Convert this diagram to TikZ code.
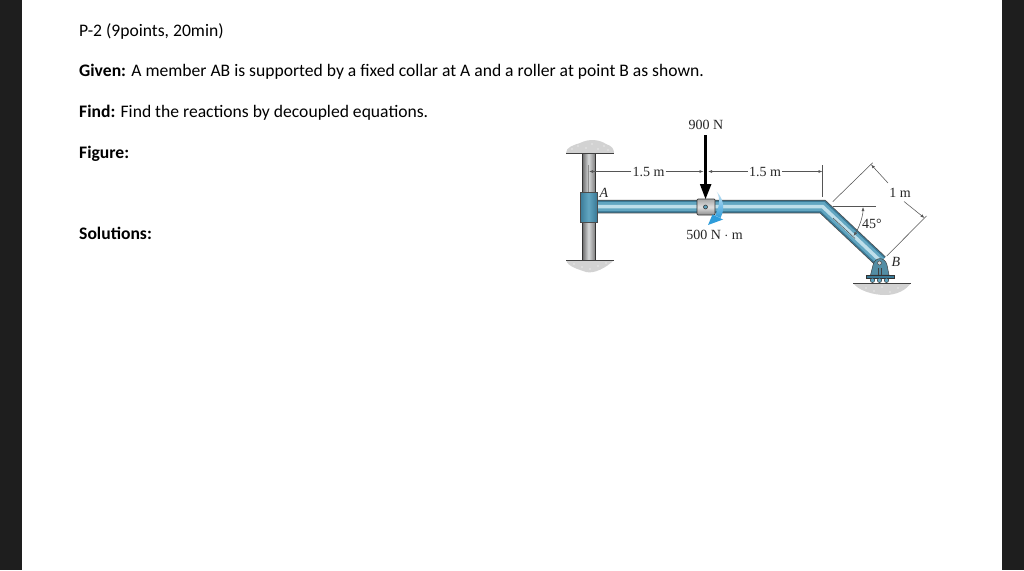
\documentclass[tikz,border=0pt]{standalone}
\usepackage{fontspec}
\setmainfont{Carlito}
\newfontfamily\figfont{Liberation Serif}
\usetikzlibrary{arrows.meta,calc}
\definecolor{pagebar}{HTML}{1E1E1E}
\definecolor{steelblue}{HTML}{62A6C1}
\definecolor{steeldark}{HTML}{3A7A97}
\definecolor{steellight}{HTML}{BFDFEA}
\definecolor{groundgray}{HTML}{D2D2D2}
\definecolor{collight}{HTML}{D6D8D9}
\definecolor{dimgray}{HTML}{555555}
\definecolor{momblue}{HTML}{2E9CDA}
\tikzset{
 doctext/.style={anchor=base west,font=\fontsize{17.6}{17.6}\selectfont,text=black,inner sep=0pt},
 figlabel/.style={font=\figfont\fontsize{14}{14}\selectfont,inner sep=1pt,text=black!85},
 figital/.style={figlabel,font=\figfont\itshape\fontsize{14}{14}\selectfont},
 dimline/.style={draw=dimgray,line width=0.55pt},
 dimarrow/.style={dimline,-{Latex[length=4pt,width=3pt]}},
 groundline/.style={draw=black!75,line width=0.9pt},
 ground/.style={fill=groundgray,draw=none},
 speck/.style={fill=white,draw=none},
}
\begin{document}
\begin{tikzpicture}[x=1pt,y=-1pt]
\useasboundingbox (0,0) rectangle (1024,570);
\fill[white] (0,0) rectangle (1024,570);
\fill[pagebar] (0,0) rectangle (22,570);
\fill[pagebar] (1002,0) rectangle (1024,570);
% text
\node[doctext] (title) at (79,36) {P-2 (9points, 20min)};
\node[doctext] (given) at (79,76) {\textbf{Given:} A member AB is supported by a fixed collar at A and a roller at point B as shown.};
\node[doctext] (find) at (79,117) {\textbf{Find:} Find the reactions by decoupled equations.};
\node[doctext] (figure) at (79,158) {\textbf{Figure:}};
\node[doctext] (solutions) at (79,239) {\textbf{Solutions:}};
% grounds
\fill[ground] (566,153) .. controls (566,147) and (574,145) .. (580,143) .. controls (590,138) and (600,140) .. (606,144) .. controls (612,146) and (614,149) .. (614,153) -- cycle;
\fill[ground] (566,260) .. controls (568,267) and (578,269) .. (586,272) .. controls (594,274) and (606,268) .. (614,260) -- cycle;
\fill[ground] (853,283) .. controls (858,290) and (872,295) .. (885,295) .. controls (897,295) and (906,290) .. (911,283) -- cycle;
\foreach \sx/\sy in {572/149,578/146,586/148,592/144,598/149,604/146,608/150,574/264,582/267,590/269,598/266,606/263,866/288,874/291,882/287,890/292,898/288}
  \fill[speck] (\sx,\sy) circle (0.7pt);
% column
\shade[left color=black!60,right color=black!50,middle color=collight,draw=black!80,line width=0.8pt] (582,153) rectangle (595,260);
\draw[groundline] (566,153) -- (614,153);
\draw[groundline] (566,260) -- (614,260);
% member
\foreach \w/\c in {13.5/black!70,12/steeldark,9/steelblue,3.5/steellight}
  \draw[line width=\w pt,\c,line join=miter] (597,206.5) -- (822.5,206.5) -- (881,261.5);
\draw[black!70,line width=0.5pt] (833,218) -- (855,238.5);
% collar
\shade[left color=steeldark,right color=steeldark,middle color=steelblue,draw=black!70,line width=0.7pt] (580,192) rectangle (597,222);
\draw[black!45,line width=0.5pt] (588.5,165) -- (588.5,192);
% load block
\shade[top color=black!35,bottom color=black!45,middle color=black!12,draw=black!80,line width=0.7pt,rounded corners=1pt] (697,199) rectangle (715,215);
\draw[fill=steelblue,draw=black!80,line width=0.6pt] (705.5,207) circle (2pt);
% support B
\draw[fill=steelblue!85!black,draw=black!75,line width=0.5pt] (870.5,275) -- (873,265) .. controls (875,256.5) and (885,256.5) .. (887,265) -- (889,275) -- cycle;
\draw[fill=collight,draw=black!70,line width=0.5pt] (879.5,263) circle (2pt);
\draw[black!75,line width=0.6pt] (878.5,268) -- (878.5,275) (881,268) -- (881,275);
\fill[steeldark,draw=black!80,line width=0.5pt] (866,275) rectangle (894,278);
\foreach \xx in {872.5,879.5,886.5}
  \draw[fill=steelblue,draw=black!80,line width=0.5pt] (\xx,280.3) circle (2.2pt);
\draw[groundline] (853,283) -- (911,283);
% load
\coordinate (loadtop) at (705.5,135);
\coordinate (loadtip) at (705.5,199);
\draw[black,line width=2.6pt] (loadtop) -- (705.5,186);
\fill[black] (loadtip) -- (699.8,184) -- (711.5,184) -- cycle;
\node[figlabel] (f900) at (706,125) {900 N};
% moment
\coordinate (mstart) at (716.7,191.7);
\coordinate (mend) at (708,225);
\shade[top color=momblue!25,bottom color=momblue] (mstart) .. controls (723,198) and (725.5,208) .. (720.5,218) -- (715,215.5) .. controls (719,208) and (721,199) .. (mstart) -- cycle;
\fill[momblue] (mend) -- (712.5,214.5) -- (723,219.5) -- cycle;
\node[figlabel] (m500) at (714.5,235) {500 N $\cdot$ m};
% 1.5 m dims
\coordinate (extA) at (589,171.5);
\coordinate (midL) at (703.5,171.5);
\coordinate (midR) at (708,171.5);
\coordinate (extB) at (822.5,171.5);
\coordinate (extBtop) at (822.5,165);
\coordinate (extBbot) at (822.5,197);
\node[figlabel,fill=white] (d1) at (648.5,171.5) {1.5 m};
\node[figlabel,fill=white] (d2) at (765,171.5) {1.5 m};
\draw[dimarrow] (d1) -- (extA);
\draw[dimarrow] (d1) -- (midL);
\draw[dimarrow] (d2) -- (midR);
\draw[dimarrow] (d2) -- (extB);
\draw[dimline] (extBtop) -- (extBbot);
% A, B
\node[figital] (labA) at (604,193) {A};
\node[figital] (labB) at (896,262) {B};
% 1 m dim
\coordinate (e1a) at (832.7,201.7);
\coordinate (e1b) at (872.7,162.7);
\coordinate (e2a) at (886.7,256);
\coordinate (e2b) at (926.5,216);
\coordinate (t1) at (871,164.5);
\coordinate (t2) at (924.5,218);
\draw[dimline] (e1a) -- (e1b);
\draw[dimline] (e2a) -- (e2b);
\node[figlabel] (d3) at (900,193) {1 m};
\draw[dimarrow] (888,183) -- (t1);
\draw[dimarrow] (904,201.5) -- (t2);
% 45 deg
\coordinate (h1) at (832.7,206.7);
\coordinate (h2) at (876,206.7);
\draw[dimline] (h1) -- (h2);
\coordinate (a1) at (863,207);
\coordinate (a2) at (853.5,236);
\draw[dimline,{Latex[length=4pt,width=3pt]}-{Latex[length=4pt,width=3pt]}] (a1) .. controls (863,216) and (859,228) .. (a2);
\node[figlabel] (deg) at (872,224) {45°};
\end{tikzpicture}
\end{document}
